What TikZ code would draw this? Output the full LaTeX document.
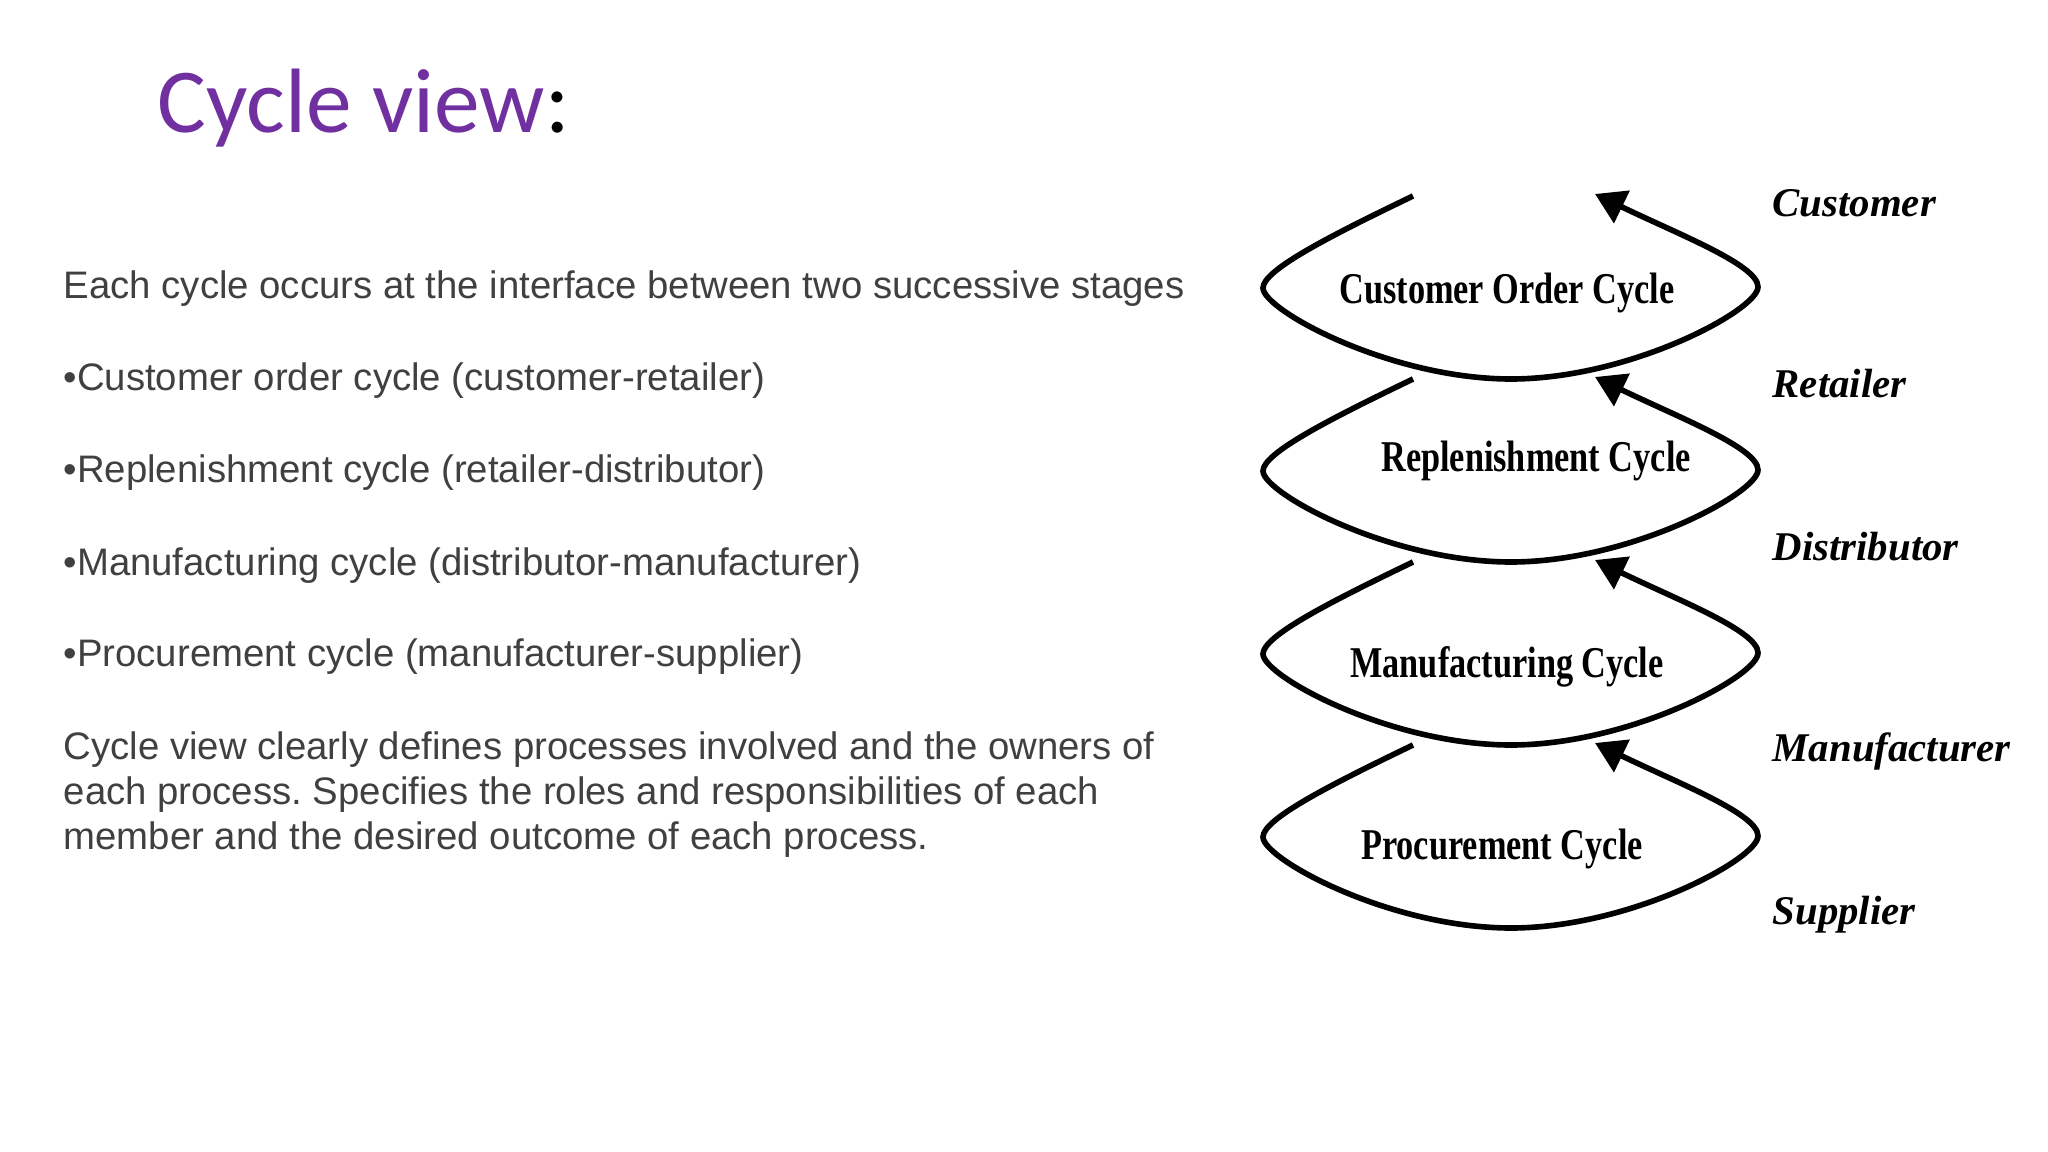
\documentclass[tikz,border=0pt]{standalone}
\usepackage{graphicx}
\usepackage{fontspec}
\setmainfont{Liberation Sans}
\newfontfamily\titlefont{Carlito}
\newfontfamily\serifbk{Liberation Serif}
\usetikzlibrary{arrows.meta}
\definecolor{titlepurple}{HTML}{7030A0}
\definecolor{bodygray}{HTML}{404040}
\frenchspacing
\begin{document}
\begin{tikzpicture}[x=0.01cm,y=-0.01cm,
  body/.style={anchor=west,inner sep=0pt,text=bodygray,font=\fontsize{10.9pt}{12.8pt}\selectfont,align=left},
  cyclelbl/.style={inner sep=0pt,font=\serifbk\bfseries\fontsize{12.5pt}{14pt}\selectfont},
  stagelbl/.style={anchor=west,inner sep=0pt,font=\serifbk\bfseries\itshape\fontsize{11.6pt}{13pt}\selectfont},
  loopline/.style={line width=1.6pt,-{Triangle[length=8.5pt,width=10pt]}}]
\useasboundingbox[fill=white] (0,0) rectangle (2048,1152);

\node[anchor=base west,inner sep=0pt,font=\titlefont\fontsize{26pt}{30pt}\selectfont] (title) at (157,133) {\textcolor{titlepurple}{Cycle view}:};

\node[body] (t1) at (63,289) {Each cycle occurs at the interface between two successive stages};
\node[body] (t2) at (63,381) {\textbullet Customer order cycle (customer-retailer)};
\node[body] (t3) at (63,473) {\textbullet Replenishment cycle (retailer-distributor)};
\node[body] (t4) at (63,566) {\textbullet Manufacturing cycle (distributor-manufacturer)};
\node[body] (t5) at (63,657) {\textbullet Procurement cycle (manufacturer-supplier)};
\node[body] (t6) at (63,795) {Cycle view clearly defines processes involved and the owners of\\each process. Specifies the roles and responsibilities of each\\member and the desired outcome of each process.};

\foreach \i in {0,1,2,3}{
  \begin{scope}[shift={(0,\i*183)}]
    \draw[loopline] (1413,196) .. controls (1330,236) and (1263,270) .. (1263,288)
      .. controls (1263,310) and (1390,379) .. (1511,379)
      .. controls (1630,379) and (1758,310) .. (1758,287)
      .. controls (1758,265) and (1680,235) .. (1595,194);
  \end{scope}
}

\node[cyclelbl] (c1) at (1507,293) {\scalebox{0.78}[1]{Customer Order Cycle}};
\node[cyclelbl] (c2) at (1536,461) {\scalebox{0.78}[1]{Replenishment Cycle}};
\node[cyclelbl] (c3) at (1507,667) {\scalebox{0.78}[1]{Manufacturing Cycle}};
\node[cyclelbl] (c4) at (1502,849) {\scalebox{0.78}[1]{Procurement Cycle}};

\node[stagelbl] (s1) at (1772,203) {Customer};
\node[stagelbl] (s2) at (1772,384) {Retailer};
\node[stagelbl] (s3) at (1772,547) {Distributor};
\node[stagelbl] (s4) at (1772,751) {Manufacturer};
\node[stagelbl] (s5) at (1772,915) {Supplier};
\end{tikzpicture}
\end{document}
